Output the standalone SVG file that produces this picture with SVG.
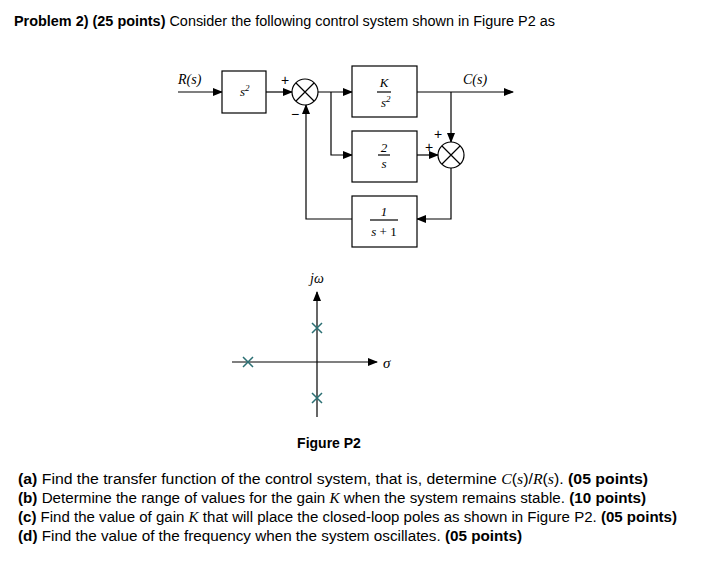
<svg xmlns="http://www.w3.org/2000/svg" width="708" height="561" viewBox="0 0 708 561">
<style>
.t{font-family:"Liberation Sans",Arial,sans-serif;font-size:14px;fill:#000}
.m{font-family:"Liberation Serif","Times New Roman",serif;font-style:italic;fill:#000}
.b{font-weight:bold}
.ln{stroke:#000;stroke-width:1.2;fill:none}
.bx{stroke:#000;stroke-width:1.2;fill:#fff}
.x{stroke:#2a6f73;stroke-width:1.5}
</style>
<defs>
<marker id="a" markerWidth="10" markerHeight="8" refX="9" refY="4" orient="auto" markerUnits="userSpaceOnUse"><path d="M0,0L10,4L0,8z" fill="#000"/></marker>
</defs>
<rect width="708" height="561" fill="#fff"/>
<text class="t" x="14" y="26" textLength="541" lengthAdjust="spacingAndGlyphs"><tspan class="b">Problem 2) (25 points)</tspan> Consider the following control system shown in Figure P2 as</text>
<g id="connectors">
<path class="ln" d="M178,92H222" marker-end="url(#a)"/>
<path class="ln" d="M266,92H292" marker-end="url(#a)"/>
<path class="ln" d="M318,92H352" marker-end="url(#a)"/>
<path class="ln" d="M331,92V155H352" marker-end="url(#a)"/>
<path class="ln" d="M417,92H513" marker-end="url(#a)"/>
<path class="ln" d="M451,92V142" marker-end="url(#a)"/>
<path class="ln" d="M417,155H438" marker-end="url(#a)"/>
<path class="ln" d="M451,168V219H417" marker-end="url(#a)"/>
<path class="ln" d="M352,219H306V105" marker-end="url(#a)"/>
</g>
<g id="labels">
<text class="m" x="178" y="84" font-size="14">R(s)</text>
<text class="m" x="463" y="84" font-size="14">C(s)</text>
<text class="t" x="281" y="85" font-size="11">+</text>
<text class="t" x="291" y="119" font-size="11">−</text>
<text class="t" x="434" y="139" font-size="10">+</text>
<text class="t" x="425" y="152" font-size="10">+</text>
</g>
<g id="gs2"><rect class="bx" x="222" y="71" width="44" height="42"/><text class="m" x="240" y="96" font-size="13">s<tspan font-size="9" dy="-5">2</tspan></text></g>
<g id="sum1"><circle class="bx" cx="305" cy="92" r="13"/><path class="ln" d="M296,83L314,101M314,83L296,101"/></g>
<g id="gK"><rect class="bx" x="352" y="66" width="65" height="51"/><text class="m" x="384" y="87" font-size="13" text-anchor="middle">K</text><path class="ln" d="M377,92H391" stroke-width="1"/><text class="m" x="381" y="107" font-size="13">s<tspan font-size="9" dy="-5">2</tspan></text></g>
<g id="g2s"><rect class="bx" x="352" y="131" width="65" height="51"/><text class="m" x="384" y="152" font-size="13" text-anchor="middle" font-style="normal">2</text><path class="ln" d="M378,155H390" stroke-width="1"/><text class="m" x="384" y="168" font-size="13" text-anchor="middle">s</text></g>
<g id="sum2"><circle class="bx" cx="451" cy="155" r="13"/><path class="ln" d="M442,146L460,164M460,146L442,164"/></g>
<g id="gfb"><rect class="bx" x="352" y="196" width="65" height="51"/><text class="m" x="384" y="216" font-size="13" text-anchor="middle" font-style="normal">1</text><path class="ln" d="M370,220H398" stroke-width="1"/><text class="m" x="384" y="236" font-size="13" text-anchor="middle">s <tspan font-style="normal">+ 1</tspan></text></g>
<g id="plot">
<path class="ln" d="M317,417V292" marker-end="url(#a)"/>
<path class="ln" d="M232,362H377" marker-end="url(#a)"/>
<text class="m" x="317" y="283" font-size="14" text-anchor="middle">jω</text>
<text class="m" x="383" y="368" font-size="15">σ</text>
<path class="x" d="M312,323l10,10M322,323l-10,10M312,393l10,10M322,393l-10,10M243,357l10,10M253,357l-10,10"/>
</g>
<text class="t b" x="329" y="448" text-anchor="middle">Figure P2</text>
<text class="t" x="18" y="484" textLength="630" lengthAdjust="spacingAndGlyphs"><tspan class="b">(a)</tspan> Find the transfer function of the control system, that is, determine <tspan class="m">C</tspan>(<tspan class="m">s</tspan>)/<tspan class="m">R</tspan>(<tspan class="m">s</tspan>). <tspan class="b">(05 points)</tspan></text>
<text class="t" x="18" y="503" textLength="628" lengthAdjust="spacingAndGlyphs"><tspan class="b">(b)</tspan> Determine the range of values for the gain <tspan class="m">K</tspan> when the system remains stable. <tspan class="b">(10 points)</tspan></text>
<text class="t" x="18" y="522" textLength="659" lengthAdjust="spacingAndGlyphs"><tspan class="b">(c)</tspan> Find the value of gain <tspan class="m">K</tspan> that will place the closed-loop poles as shown in Figure P2. <tspan class="b">(05 points)</tspan></text>
<text class="t" x="18" y="541" textLength="504" lengthAdjust="spacingAndGlyphs"><tspan class="b">(d)</tspan> Find the value of the frequency when the system oscillates. <tspan class="b">(05 points)</tspan></text>
</svg>
